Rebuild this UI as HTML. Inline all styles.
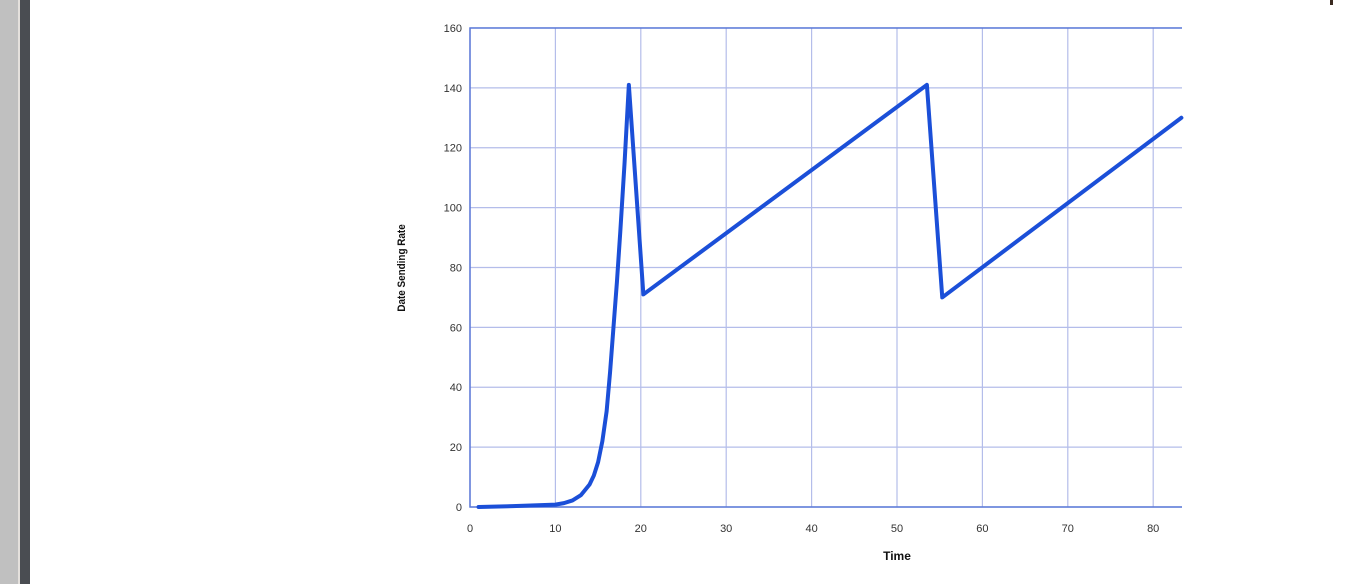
<!DOCTYPE html>
<html><head><meta charset="utf-8"><style>
body{margin:0;width:1370px;height:584px;background:#fff;overflow:hidden;position:relative;font-family:"Liberation Sans",sans-serif}
</style></head><body>
<div style="position:absolute;left:0;top:0;width:18px;height:584px;background:#c0c0c0"></div>
<div style="position:absolute;left:18px;top:0;width:2px;height:584px;background:#e4e0dc"></div>
<div style="position:absolute;left:20px;top:0;width:10px;height:584px;background:#4a4d52"></div>
<div style="position:absolute;left:1330px;top:0;width:3px;height:5px;background:#3a2a20"></div>
<svg width="1370" height="584" style="position:absolute;left:0;top:0">
<g id="g"></g>
</svg>
<script>
const xTicks=[0,10,20,30,40,50,60,70,80];
const yTicks=[0,20,40,60,80,100,120,140,160];
const xs=[1,5,10,11,12,13,14,14.5,15,15.5,16,16.4,16.8,17.2,17.6,18.1,18.6,20.3,53.5,55.3,83.3];
const ys=[0,0.3,0.8,1.3,2.2,4,7.5,10.5,15,22,32,45,60,75,92,115,141,71,141,70,130];
const X0=470,XS=8.54,Y0=507,YS=2.994,R=1182,T=28;
const sx=v=>X0+v*XS, sy=v=>Y0-v*YS;
const g=document.getElementById('g');
const NS='http://www.w3.org/2000/svg';
function mk(t,a){const e=document.createElementNS(NS,t);for(const k in a)e.setAttribute(k,a[k]);g.appendChild(e);return e;}
xTicks.forEach(t=>{
 const l=mk('line',{x1:sx(t),x2:sx(t),y1:T,y2:Y0,stroke:'#b4bdea','stroke-width':1.2});
 
 
 const tx=mk('text',{x:sx(t),y:Y0+25,'font-size':11,'text-anchor':'middle',fill:'#333'});
 tx.textContent=t;
 
 
});
yTicks.forEach(t=>{
 const l=mk('line',{x1:X0,x2:R,y1:sy(t),y2:sy(t),stroke:'#b4bdea','stroke-width':1.2});
 
 
 const tx=mk('text',{x:X0-8,y:sy(t)+4,'font-size':11,'text-anchor':'end',fill:'#333'});
 tx.textContent=t;
 
 
});
const ax=mk('path',{d:`M${R},${T}H${X0}V${Y0}H${R}`,fill:'none',stroke:'#5a78d8','stroke-width':1.5});


const pts=xs.map((x,i)=>sx(x)+','+sy(ys[i])).join(' ');
const line=mk('polyline',{points:pts,fill:'none',stroke:'#1b4fd8','stroke-width':4,'stroke-linejoin':'round','stroke-linecap':'round'});


const xt=mk('text',{x:897,y:560,'font-size':12,'font-weight':'bold','text-anchor':'middle',fill:'#111'});
xt.textContent='Time';


const yt=mk('text',{x:0,y:0,'font-size':11,'font-weight':'bold','text-anchor':'middle',fill:'#111',transform:'translate(405,268) rotate(-90) scale(0.9,1)'});
yt.textContent='Date Sending Rate';


</script>
</body></html>
